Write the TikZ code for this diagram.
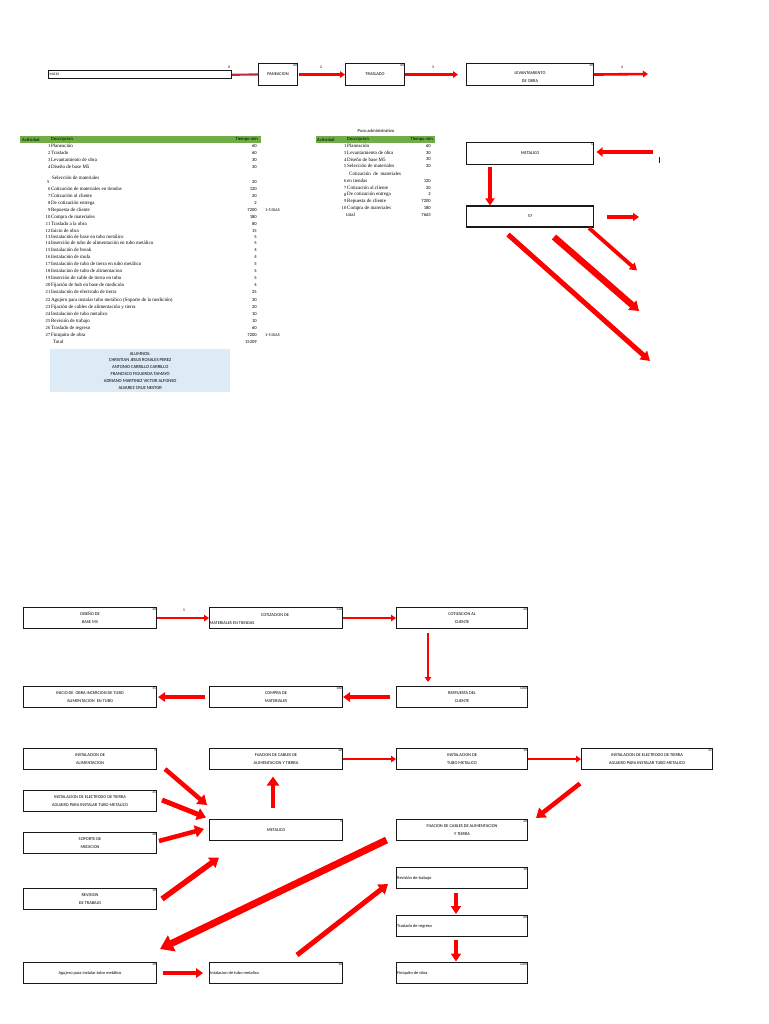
\documentclass[tikz,border=0pt]{standalone}
\usepackage{fontspec}
\setmainfont{Carlito}
\newfontfamily\serifface{Liberation Serif}
\usetikzlibrary{arrows.meta}
\definecolor{xred}{RGB}{255,0,0}
\definecolor{crim}{RGB}{192,40,64}
\definecolor{hgreen}{RGB}{112,173,71}
\definecolor{nblue}{RGB}{221,235,247}
\definecolor{bord}{RGB}{25,25,25}
\newcommand\bxnum[2]{\node[nm] (#1-n) at ([shift={(-1,1)}]#1.north east) {#2};}
\begin{document}
\begin{tikzpicture}[x=1pt,y=-1pt,
  bx/.style={draw=bord, line width=1.1, fill=white, inner sep=0, minimum height=21, minimum width=133, anchor=north west, align=center, font=\fontsize{4.4}{8}\selectfont},
  nm/.style={inner sep=0, font=\fontsize{3.6}{4}\selectfont, anchor=north east},
  numc/.style={inner sep=0, font=\fontsize{3.8}{4}\selectfont},
  lab/.style={inner sep=0, font=\fontsize{4.4}{8}\selectfont, align=center},
  td/.style={inner sep=0, font=\serifface\fontsize{5}{6}\selectfont, anchor=west},
  tn/.style={inner sep=0, font=\serifface\fontsize{4.6}{6}\selectfont, anchor=east},
  tv/.style={inner sep=0, font=\fontsize{4.6}{6}\selectfont, anchor=east},
  th/.style={inner sep=0, font=\fontsize{4.6}{6}\selectfont},
  thinar/.style={xred, line width=2.6, -{Triangle[length=5,width=6.5]}},
  midar/.style={xred, line width=4.2, -{Triangle[length=7,width=9.5]}},
  bigar/.style={xred, line width=5, -{Triangle[length=9,width=12]}},
  hugear/.style={xred, line width=7, -{Triangle[length=13,width=17]}}]
\fill[white] (0,0) rectangle (768,1024);
\useasboundingbox (0,0) rectangle (768,1024);

% ---------- top row ----------
\node[draw=bord, line width=0.9, fill=white, minimum width=183, minimum height=7.5, inner sep=0, anchor=north west] (ini) at (48,70.5) {};
\node[inner sep=0, font=\fontsize{3.6}{4}\selectfont, anchor=west] (ini-t) at (49.5,74.3) {INICIO};
\node[numc] (ini-n) at (229,67) {0};
\node[bx, minimum width=39, minimum height=22] (pla) at (258,63) {PANEACION}; \bxnum{pla}{60}
\node[bx, minimum width=59, minimum height=22] (tra) at (345,63) {TRASLADO}; \bxnum{tra}{60}
\node[bx, minimum width=127, minimum height=22] (lev) at (466,63) {}; \bxnum{lev}{30}
\node[lab] (lev-t) at (530,77.5) {LEVANTAMIENTO\\DE OBRA};
\coordinate (e4) at (648,74);
\draw[crim, line width=2.2] (ini.east) -- (pla.west);
\draw[thinar, shorten <=1] (pla.east) -- (tra.west);
\draw[thinar] (tra.east) -- ([xshift=-8]lev.west);
\draw[thinar] (lev.east) -- (e4);
\node[numc] (l2) at (321,67) {2};
\node[numc] (l3) at (433,67) {3};
\node[numc] (l4) at (622,67) {4};

% ---------- left table ----------
\fill[hgreen] (20,136.5) rectangle (261,143);
\node[th, anchor=west] (lh1) at (22,139.5) {Actividad};
\node[th, anchor=west] (lh2) at (51,139.5) {Descripcion};
\node[th, anchor=east] (lh3) at (258,139.5) {Tiempo min};
\foreach \yy/\nn/\dd/\vv [count=\i] in {
 146/1/Planeación/60, 153/2/Traslado/60, 160/3/Levantamiento de obra/30, 167/4/Diseño de base M5/30,
 189/6/Cotización de materiales en tiendas/120, 196/7/Cotización al cliente/20, 203/8/De cotización entrega/2,
 210/9/Repuesta de cliente/7200, 217/10/Compra de materiales/180, 224/11/Traslado a la obra/80,
 231/12/Inicio de obra/15, 237/13/Instalación de base en tubo metálico/5,
 243/14/Inserción de tubo de alimentación en tubo metálico/5, 250/15/Instalación de break/4,
 257/16/Instalación de mufa/4, 264/17/Instalación de tubo de tierra en tubo metálico/5,
 271/18/Instalacion de tubo de alimentacion/5, 278/19/Inserción de cable de tierra en tubo/5,
 285/20/Fijación de hub en base de medición/4, 292/21/Instalación de electrodo de tierra/25,
 300/22/Agujero para instalar tubo metálico (Soporte de la medición)/30,
 307/23/Fijación de cables de alimentación y tierra/20, 314/24/Instalacion de tubo metalico/10,
 321/25/Revisión de trabajo/10, 328/26/Traslado de regreso/60, 335/27/Finiquito de obra/7200}
{
 \node[tn] (ln\i) at (50.5,\yy) {\nn};
 \node[td] (ld\i) at (50.8,\yy) {\dd};
 \node[tv] (lv\i) at (257,\yy) {\vv};
}
\node[td] (ld5) at (52,178) {Selección de materiales};
\node[tn] (ln5) at (49.5,182) {5};
\node[tv] (lv5) at (257,182) {20};
\node[td] (ltot) at (53,342) {Total};
\node[tv] (ltotv) at (257,342) {15209};
\node[th, anchor=west, font=\fontsize{4.2}{5}\selectfont] (ld9a) at (265,210) {1-5 DIAS};
\node[th, anchor=west, font=\fontsize{4.2}{5}\selectfont] (ld27a) at (265,335) {1-5 DIAS};

% ---------- right table ----------
\node[th] (rtit) at (376,131) {Puro administrativo};
\fill[hgreen] (316,136.5) rectangle (435,143);
\node[th, anchor=west] (rh1) at (317,139.5) {Actividad};
\node[th, anchor=west] (rh2) at (347,139.5) {Descripcion};
\node[th, anchor=east] (rh3) at (433,139.5) {Tiempo min};
\foreach \yy/\nn/\dd/\vv [count=\i] in {
 146/1/Planeación/60, 153/3/Levantamiento de obra/30, 159.5/4/Diseño de base M5/30,
 166/5/Selección de materiales/20, 181/6/en tiendas/120, 188/7/Cotización al cliente/20,
 194.5/8/De cotización entrega/2, 201/9/Repuesta de cliente/7200, 208/10/Compra de materiales/180}
{
 \node[tn] (rn\i) at (346.5,\yy) {\nn};
 \node[td] (rd\i) at (347,\yy) {\dd};
 \node[tv] (rv\i) at (431,\yy) {\vv};
}
\node[td] (rdx) at (349,173.5) {Cotización\ \ de\ \ materiales};
\node[td] (rtot) at (346,215) {total};
\node[tv] (rtotv) at (431,215) {7663};

% ---------- names ----------
\node[fill=nblue, minimum width=180, minimum height=43, anchor=north west, inner sep=0, align=center,
  font=\fontsize{4.6}{6.8}\selectfont] (alum) at (50,349)
  {ALUMNOS:\\CHRISTIAN JESUS ROSALES PEREZ\\ANTONIO CARRILLO CARRILLO\\FRANCISCO FIGUEROA TAMAYO\\ADRIANO MARTINEZ VICTOR ALFONSO\\ALVAREZ CRUZ NESTOR};

% ---------- top right ----------
\node[bx, minimum width=127, minimum height=22] (met1) at (466,142) {METALICO}; \bxnum{met1}{5}
\node[bx, minimum width=127, minimum height=21] (s57) at (466,205.5) {57};
\coordinate (q1) at (653,152); \coordinate (q2) at (596.5,152);
\draw[xred, line width=3.8, -{Triangle[length=6,width=9]}] (q1) -- (q2);
\coordinate (v1) at (659,157); \coordinate (v2) at (659,163.5);
\draw[bord, line width=0.9] (v1) -- (v2);
\draw[xred, line width=4.2, -{Triangle[length=7,width=9]}] ([shift={(24,2)}]met1.south west) -- ([xshift=24]s57.north west);
\coordinate (r1) at (607,217); \coordinate (r2) at (639,217);
\draw[xred, line width=3.5, -{Triangle[length=6,width=8]}] (r1) -- (r2);
\coordinate (g1) at (589,228); \coordinate (g2) at (637,270.5);
\draw[xred, line width=3.8, -{Triangle[length=7,width=8.5]}] (g1) -- (g2);
\coordinate (g3) at (554,237); \coordinate (g4) at (639,311);
\draw[xred, line width=6.5, -{Triangle[length=9,width=12]}] (g3) -- (g4);
\coordinate (g5) at (508,234.5); \coordinate (g6) at (650,361);
\draw[xred, line width=5, -{Triangle[length=9,width=11]}] (g5) -- (g6);

% ---------- bottom flow ----------
\node[bx] (dis) at (23,607) {DISEÑO DE\\BASE M5}; \bxnum{dis}{30}
\node[bx] (cm) at (209,607) {}; \bxnum{cm}{120}
\node[lab] (cm-t1) at (275,615.5) {COTIZACION DE};
\node[lab, anchor=west] (cm-t2) at (209.5,623.5) {MATERIALES EN TIENDAS};
\node[bx, minimum width=131] (cc) at (396,607) {COTIZACION AL\\CLIENTE}; \bxnum{cc}{20}

\node[bx] (ini2) at (23,686) {INICIO DE\ \ OBRA INCERCION DE TUBO\\ALIMENTACION\ \ EN TUBO}; \bxnum{ini2}{15}
\node[bx] (comp) at (209,686) {COMPRA DE\\MATERIALES}; \bxnum{comp}{180}
\node[bx, minimum width=131] (resp) at (396,686) {RESPUESTA DEL\\CLIENTE}; \bxnum{resp}{7200}

\node[bx] (ia) at (23,748) {INSTALACION DE\\ALIMENTACION}; \bxnum{ia}{5}
\node[bx] (fc1) at (209,748) {FIJACION DE CABLES DE\\ALIMENTACION Y TIERRA}; \bxnum{fc1}{20}
\node[bx, minimum width=131] (itm) at (396,748) {INSTALACION DE\\TUBO METALICO}; \bxnum{itm}{10}
\node[bx, minimum width=131] (ie2) at (581,748) {INSTALACION DE ELECTRODO DE TIERRA\\AGUJERO PARA INSTALAR TUBO METALICO}; \bxnum{ie2}{25}

\node[bx] (ie1) at (23,790) {INSTALACION DE ELECTRODO DE TIERRA\\AGUJERO PARA INSTALAR TUBO METALICO}; \bxnum{ie1}{25}
\node[bx] (met2) at (209,819) {METALICO}; \bxnum{met2}{5}
\node[bx, minimum width=131] (fc2) at (396,819) {FIJACION DE CABLES DE ALIMENTACION\\Y TIERRA}; \bxnum{fc2}{20}
\node[bx] (sop) at (23,832) {SOPORTE DE\\MEDICION}; \bxnum{sop}{30}

\node[bx] (rev) at (23,888) {REVISION\\DE TRABAJO}; \bxnum{rev}{10}
\node[bx, minimum width=131] (rt) at (396,867) {}; \bxnum{rt}{10}
\node[lab, anchor=west] (rt-t) at ([xshift=1]rt.west) {Revisión de trabajo};
\node[bx, minimum width=131] (tr) at (396,915) {}; \bxnum{tr}{60}
\node[lab, anchor=west] (tr-t) at ([xshift=1]tr.west) {Traslado de regreso};
\node[bx, minimum width=131] (fin) at (396,962) {}; \bxnum{fin}{7200}
\node[lab, anchor=west] (fin-t) at ([xshift=1]fin.west) {Finiquito de obra};
\node[bx] (agu) at (23,962) {Agujero para instalar tubo metálico}; \bxnum{agu}{30}
\node[bx] (itm2) at (209,962) {}; \bxnum{itm2}{10}
\node[lab, anchor=west] (itm2-t) at ([xshift=1]itm2.west) {Intalacion de tubo metalico};

% connectors
\draw[thinar] (dis.east) -- (cm.west);
\node[numc] (l5) at (184,610) {5};
\draw[thinar] (cm.east) -- (cc.west);
\draw[thinar] ([shift={(32,4)}]cc.south west) -- ([shift={(32,-4)}]resp.north west);
\draw[midar, shorten <=6] (resp.west) -- (comp.east);
\draw[midar, shorten <=4, shorten >=1] (comp.west) -- (ini2.east);
\draw[thinar] (fc1.east) -- (itm.west);
\draw[thinar] (itm.east) -- (ie2.west);

\coordinate (d1s) at (165,769); \coordinate (d1e) at (207,805);
\draw[bigar, line width=4.5] (d1s) -- (d1e);
\coordinate (d2s) at (162,800); \coordinate (d2e) at (206,817.5);
\draw[bigar, line width=5] (d2s) -- (d2e);
\coordinate (d3s) at (159,841); \coordinate (d3e) at (204,829);
\draw[bigar, line width=4.5] (d3s) -- (d3e);
\coordinate (u1) at (273,808); \coordinate (u2) at (273,776.5);
\draw[bigar, line width=4.5] (u1) -- (u2);
\coordinate (d4s) at (580,783.5); \coordinate (d4e) at (536,818);
\draw[bigar, line width=4.5] (d4s) -- (d4e);
\coordinate (d5s) at (386.5,840); \coordinate (d5e) at (160,949);
\draw[hugear] (d5s) -- (d5e);
\coordinate (d6s) at (162,899); \coordinate (d6e) at (219,857.5);
\draw[bigar, line width=5.5] (d6s) -- (d6e);
\coordinate (d7s) at (297,955); \coordinate (d7e) at (388,884);
\draw[bigar, line width=5] (d7s) -- (d7e);
\draw[midar, shorten <=6, shorten >=6] (agu.east) -- (itm2.west);
\coordinate (k1) at (456,893); \coordinate (k2) at (456,914);
\draw[midar, line width=4, -{Triangle[length=8,width=10]}] (k1) -- (k2);
\coordinate (k3) at (456,940); \coordinate (k4) at (456,961.5);
\draw[midar, line width=4, -{Triangle[length=8,width=10]}] (k3) -- (k4);
\end{tikzpicture}
\end{document}
